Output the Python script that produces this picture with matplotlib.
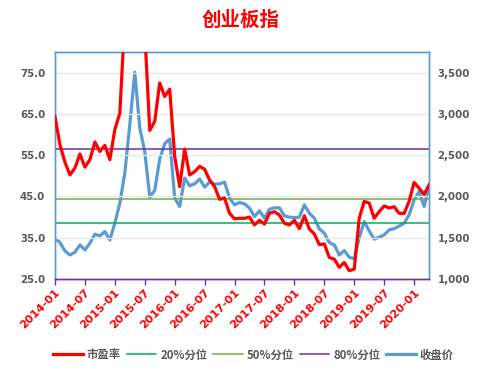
import matplotlib
matplotlib.use('Agg')
import matplotlib.pyplot as plt
from matplotlib.ticker import FuncFormatter, FixedLocator

plt.rcParams['font.family'] = ['Noto Sans CJK SC', 'DejaVu Sans']

# monthly data, 2014-01 .. 2020-04
pe = [64.4, 57.5, 53.3, 50.2, 51.9, 55.3, 52.1, 53.9, 58.2, 55.9, 57.4, 53.9,
      61.2, 65.2, 88, 110, 135, 120, 85, 61.0, 63.2, 72.5, 69.2, 71.0,
      54.7, 47.4, 56.5, 50.2, 51.0, 52.3, 51.6, 49.0, 47.4, 44.3, 44.6, 40.9,
      39.6, 39.7, 39.7, 40.0, 38.1, 39.2, 38.3, 40.9, 41.3, 40.5, 38.5, 38.1,
      39.2, 37.2, 40.3, 37.1, 35.9, 33.3, 33.5, 30.2, 29.8, 27.8, 29.0, 27.0,
      27.4, 39.7, 43.8, 43.4, 39.7, 41.3, 42.7, 42.2, 42.5, 40.9, 40.9, 43.8,
      48.4, 47.0, 45.5, 47.8]
close = [1494, 1441, 1340, 1291, 1324, 1413, 1352, 1433, 1543, 1522, 1574, 1473,
         1676, 1919, 2283, 2870, 3505, 2830, 2545, 1992, 2072, 2453, 2639, 2696,
         1980, 1878, 2222, 2129, 2153, 2210, 2113, 2174, 2150, 2153, 2174, 1980,
         1898, 1926, 1910, 1858, 1756, 1825, 1737, 1846, 1862, 1862, 1765, 1749,
         1744, 1749, 1898, 1797, 1737, 1607, 1555, 1441, 1413, 1291, 1344, 1263,
         1245, 1500, 1696, 1583, 1482, 1505, 1534, 1595, 1610, 1640, 1676, 1777,
         1959, 2060, 1878, 2120]
q20 = 38.5
q50 = 44.4
q80 = 56.5
tick_labels = ['2014-01', '2014-07', '2015-01', '2015-07', '2016-01', '2016-07',
               '2017-01', '2017-07', '2018-01', '2018-07', '2019-01', '2019-07',
               '2020-01']

RED = '#FF0000'
BLUE = '#5B9BD5'
GREEN = '#00B050'
OLIVE = '#70AD47'
PURPLE = '#7030A0'
GREY = '#595959'

fig = plt.figure(figsize=(4.81, 3.78), dpi=100)
ax = fig.add_axes([0.1143, 0.262, 0.892 - 0.1143, 0.8624 - 0.262])
ax2 = ax.twinx()

x = list(range(len(pe)))
ax.set_xlim(0, len(pe) - 1)
ax.set_ylim(25, 80)
ax2.set_ylim(1000, 3750)

# grid on the left scale
for v in [35, 45, 55, 65, 75]:
    ax.axhline(v, color='#E6E6E6', lw=0.9, zorder=0)

l_pe, = ax.plot(x, pe, color=RED, lw=2.3, zorder=3, label='市盈率')
l20, = ax.plot(x, [q20] * len(x), color=GREEN, lw=1.1, zorder=2, label='20%分位')
l50, = ax.plot(x, [q50] * len(x), color=OLIVE, lw=1.1, zorder=2, label='50%分位')
l80, = ax.plot(x, [q80] * len(x), color=PURPLE, lw=1.1, zorder=2, label='80%分位')
l_cl, = ax2.plot(x, close, color=BLUE, lw=2.3, zorder=3, label='收盘价')
ax.set_zorder(ax2.get_zorder() + 1)
ax.patch.set_visible(False)

num_font = dict(family='DejaVu Sans', weight='bold')

ax.yaxis.set_major_locator(FixedLocator([25, 35, 45, 55, 65, 75]))
ax.yaxis.set_major_formatter(FuncFormatter(lambda v, p: '%.1f' % v))
ax2.yaxis.set_major_locator(FixedLocator([1000, 1500, 2000, 2500, 3000, 3500]))
ax2.yaxis.set_major_formatter(FuncFormatter(lambda v, p: '{:,.0f}'.format(v)))
ax.tick_params(axis='y', length=0, pad=7, labelsize=7.4, labelcolor=GREY)
ax2.tick_params(axis='y', length=0, pad=6, labelsize=7.4, labelcolor=GREY)
for t in ax.get_yticklabels() + ax2.get_yticklabels():
    t.set_fontfamily(num_font['family'])
    t.set_fontweight(num_font['weight'])

ax.set_xticks(x[::6])
ax.set_xticklabels(tick_labels, rotation=45, ha='right', rotation_mode='anchor',
                   color=RED, fontsize=8, **num_font)
ax.tick_params(axis='x', length=4, width=1, color=PURPLE, pad=2)

for a in (ax, ax2):
    for s in ['top', 'left', 'right']:
        a.spines[s].set_color(BLUE)
        a.spines[s].set_linewidth(1)
    a.spines['bottom'].set_color(PURPLE)
    a.spines['bottom'].set_linewidth(1)

fig.text(0.5, 0.945, '创业板指', ha='center', va='center', color=RED,
         fontsize=14, fontweight='bold')

leg = fig.legend(handles=[l_pe, l20, l50, l80, l_cl], loc='center',
                 bbox_to_anchor=(0.527, 0.061), ncol=5, frameon=False,
                 fontsize=8.2, handlelength=2.6, handletextpad=0.35,
                 columnspacing=0.5)
for t in leg.get_texts():
    t.set_color(GREY)
    t.set_fontweight('bold')

fig.savefig('out.png', dpi=100)
